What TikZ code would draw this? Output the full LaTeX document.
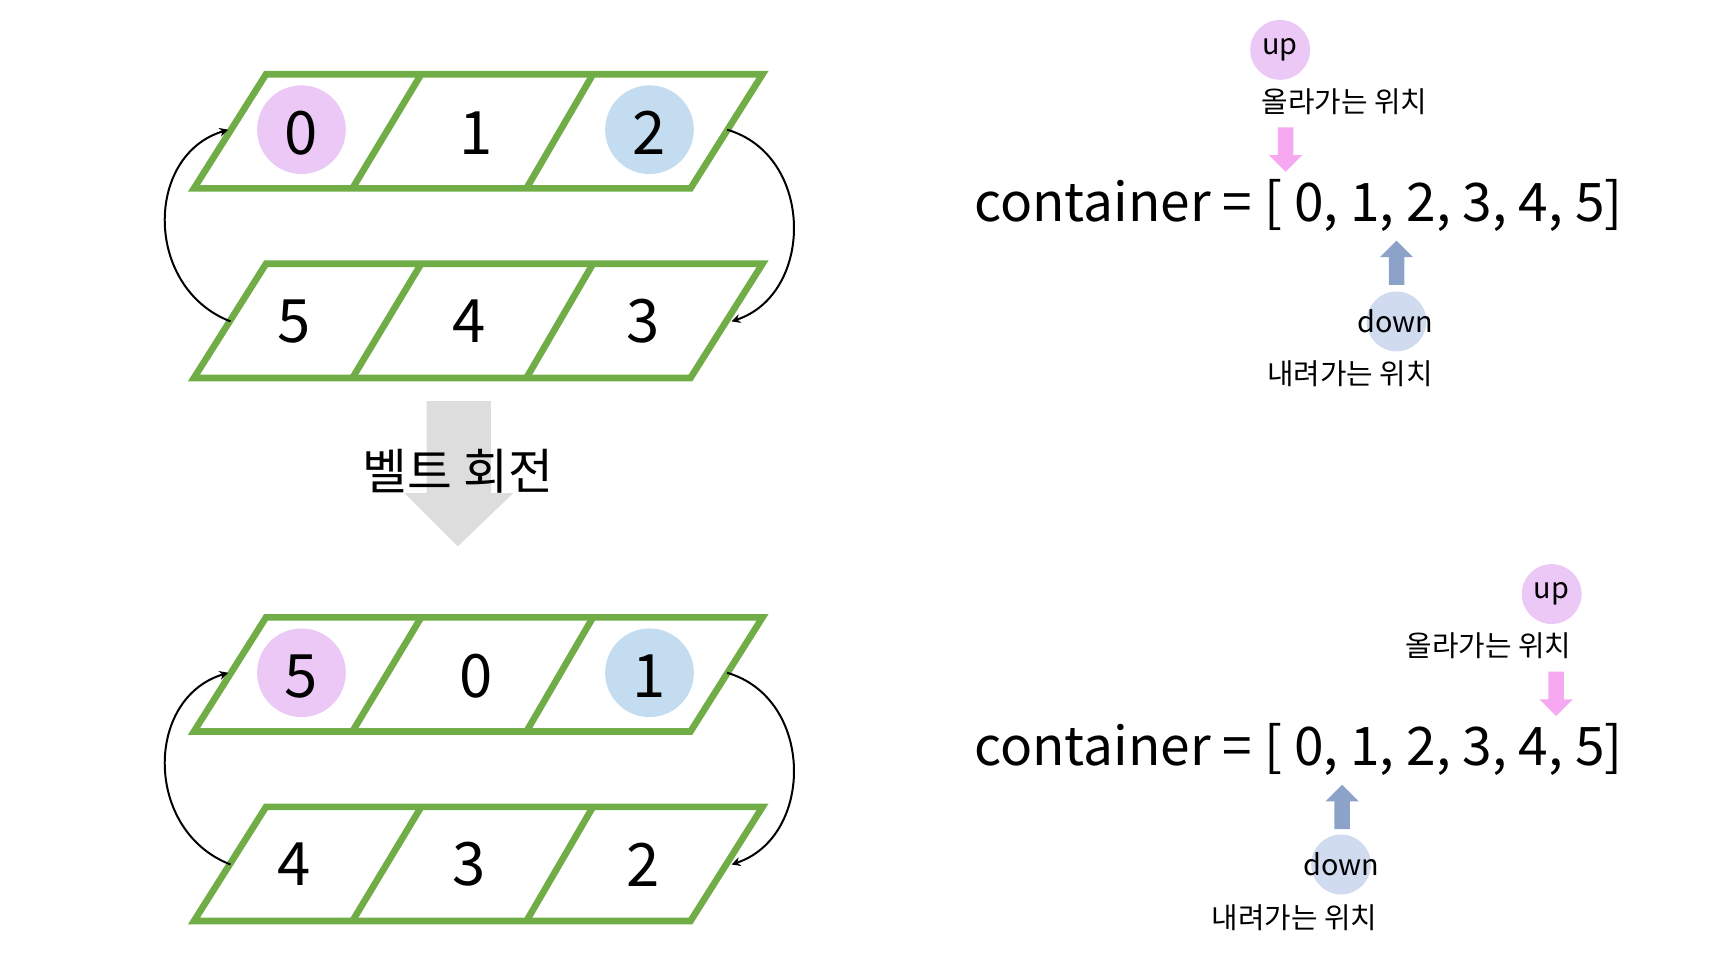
\documentclass[tikz,border=0pt]{standalone}
\usepackage{fontspec}
\setmainfont{Noto Sans CJK KR}
\usetikzlibrary{arrows.meta}
\definecolor{belt}{HTML}{70AD47}
\definecolor{pk}{HTML}{EBC8F5}
\definecolor{bl}{HTML}{C3DCEF}
\definecolor{pka}{HTML}{F6A8F0}
\definecolor{bla}{HTML}{8DA2C8}
\definecolor{dn}{HTML}{D0DBEF}
\definecolor{gr}{HTML}{DDDDDD}
\tikzset{
  cell/.style={draw=belt,line width=3pt,line join=miter},
  dig/.style={font=\fontsize{27}{30}\selectfont},
  cont/.style={font=\fontsize{24}{28}\selectfont},
  lab/.style={font=\fontsize{13}{15}\selectfont},
  loop/.style={-{Stealth[length=4pt,width=4pt]},line width=0.9pt},
  fat/.style={fill=#1,draw=none}
}
\begin{document}
\begin{tikzpicture}[x=0.5pt,y=-0.5pt]
\useasboundingbox (0,0) rectangle (1560,874);
\foreach \dy/\a/\b/\c/\d/\e/\f in {0/0/1/2/5/4/3, 490/5/0/1/4/3/2}{
  \begin{scope}[yshift=-\dy*0.5pt]
  \foreach \y in {0,171}{
    \draw[cell] (240,67+\y) -- (688,67+\y) -- (623,170+\y) -- (175,170+\y) -- cycle;
    \draw[cell] (380,67+\y) -- (318,170+\y);
    \draw[cell] (535,67+\y) -- (475,170+\y);
  }
  \node[circle,fill=pk,minimum size=40pt,inner sep=0] (p\dy) at (272,117) {};
  \node[circle,fill=bl,minimum size=40pt,inner sep=0] (q\dy) at (586,117) {};
  \node[dig] (ta\dy) at (272,120) {\a};
  \node[dig] (tb\dy) at (430,120) {\b};
  \node[dig] (tc\dy) at (586,120) {\c};
  \node[dig] (td\dy) at (265,290) {\d};
  \node[dig] (te\dy) at (423,290) {\e};
  \node[dig] (tf\dy) at (580,290) {\f};
  \coordinate (l1\dy) at (208,290); \coordinate (l2\dy) at (206,117);
  \coordinate (r1\dy) at (656,117); \coordinate (r2\dy) at (660,290);
  \draw[loop] (l1\dy) .. controls (130,260) and (130,140) .. (l2\dy);
  \draw[loop] (r1\dy) .. controls (735,140) and (735,265) .. (r2\dy);
  \end{scope}
}
% gray arrow
\fill[gr] (385,362) -- (443,362) -- (443,445) -- (463,445) -- (413,493) -- (365,445) -- (385,445) -- cycle;
\node[font=\fontsize{22}{26}\selectfont] (title) at (413,425) {벨트 회전};
% right top
\node[cont,anchor=west] (c1) at (872,185) {container = [ 0,\ 1,\ 2,\ 3,\ 4,\ 5]};
\node[circle,fill=pk,minimum size=27pt,inner sep=0] (u1) at (1155,45) {};
\node[lab] at (1155,45) {up};
\node[lab] (ut1) at (1213,92) {올라가는 위치};
\fill[pka] (1153,115) -- (1167,115) -- (1167,140) -- (1175,140) -- (1160,155) -- (1145,140) -- (1153,140) -- cycle;
\fill[bla] (1253,257) -- (1267,257) -- (1267,232) -- (1275,232) -- (1260,217) -- (1245,232) -- (1253,232) -- cycle;
\node[circle,fill=dn,minimum size=27pt,inner sep=0] (d1) at (1260,290) {};
\node[lab] at (1259,290) {down};
\node[lab] (dt1) at (1218,337) {내려가는 위치};
% right bottom
\node[cont,anchor=west] (c2) at (872,676) {container = [ 0,\ 1,\ 2,\ 3,\ 4,\ 5]};
\node[circle,fill=pk,minimum size=27pt,inner sep=0] (u2) at (1400,536) {};
\node[lab] at (1400,536) {up};
\node[lab] (ut2) at (1343,583) {올라가는 위치};
\fill[pka] (1397,606) -- (1411,606) -- (1411,631) -- (1419,631) -- (1404,646) -- (1389,631) -- (1397,631) -- cycle;
\fill[bla] (1204,748) -- (1218,748) -- (1218,723) -- (1226,723) -- (1211,708) -- (1196,723) -- (1204,723) -- cycle;
\node[circle,fill=dn,minimum size=27pt,inner sep=0] (d2) at (1210,780) {};
\node[lab] at (1210,780) {down};
\node[lab] (dt2) at (1168,828) {내려가는 위치};
\end{tikzpicture}
\end{document}
